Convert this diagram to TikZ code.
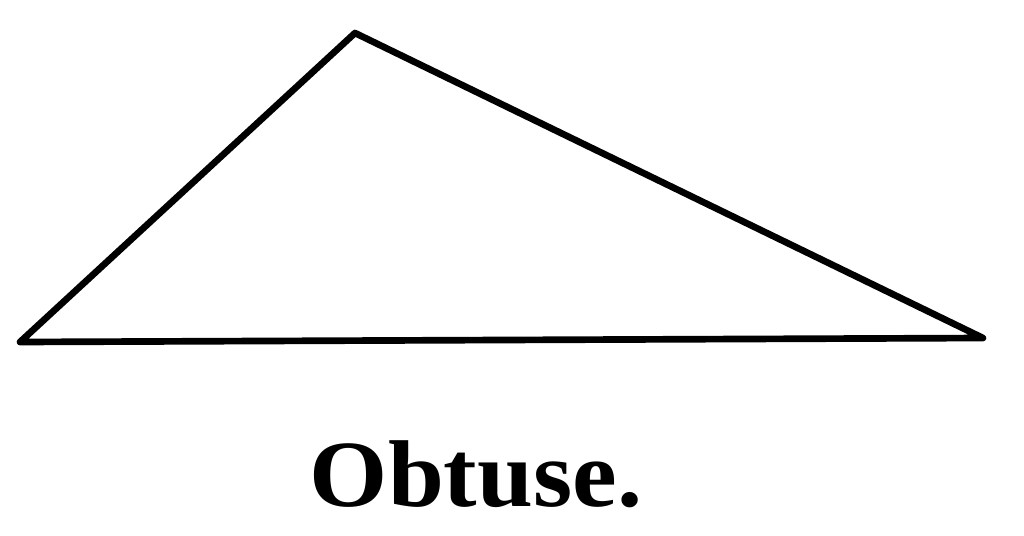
\documentclass[tikz,border=0pt]{standalone}
\usepackage{fontspec}
\setmainfont{Liberation Serif}
\tikzset{
    triEdge/.style={
        line width=3.8pt,
        line join=round,
        line cap=round
    },
    nodeCaption/.style={
        font=\fontsize{54}{60}\selectfont\bfseries,
        xscale=1.06,
        inner sep=0pt
    },
}
\begin{document}
\begin{tikzpicture}[x=0.02cm,y=-0.02cm]
    \useasboundingbox (0,0) rectangle (1024,535);

    \coordinate (vLeft) at (20, 342);
    \coordinate (vTop) at (355, 33);
    \coordinate (vRight) at (983, 338);

    \draw[triEdge] (vLeft) -- (vTop) -- (vRight) -- cycle;

    \node[nodeCaption] (caption) at (476, 474) {Obtuse.};
\end{tikzpicture}
\end{document}
